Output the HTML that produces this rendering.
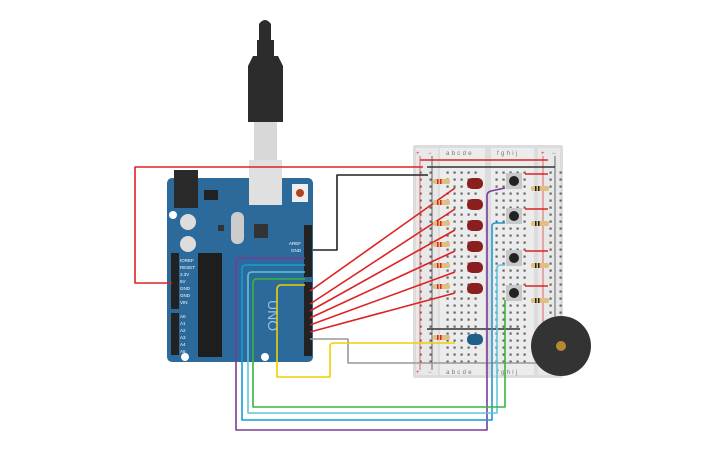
<!DOCTYPE html>
<html><head><style>body{margin:0;background:#fff}svg{display:block}</style></head><body>
<svg width="725" height="453" viewBox="0 0 725 453" xmlns="http://www.w3.org/2000/svg" font-family="Liberation Sans, sans-serif">
<defs>
<pattern id="h5" x="445" y="170" width="7" height="7" patternUnits="userSpaceOnUse"><rect x="1.5" y="1.5" width="2.2" height="2.2" fill="#666"/></pattern>
<pattern id="hr" x="418" y="170" width="10" height="7" patternUnits="userSpaceOnUse"><rect x="1.5" y="1.5" width="2.2" height="2.2" fill="#666"/></pattern>
</defs>
<rect x="413" y="145" width="150" height="233" fill="#dcdcdc" rx="2"/>
<rect x="416" y="148" width="22" height="227" fill="#e8e8e8"/>
<rect x="440" y="148" width="45" height="227" fill="#ececec"/>
<rect x="491" y="148" width="43" height="227" fill="#ececec"/>
<rect x="538" y="148" width="22" height="227" fill="#e8e8e8"/>
<rect x="445" y="170" width="35" height="196" fill="url(#h5)"/>
<rect x="495" y="170" width="35" height="196" fill="url(#h5)"/>
<rect x="418" y="170" width="20" height="196" fill="url(#hr)"/>
<rect x="542" y="170" width="20" height="196" fill="url(#hr)"/>
<line x1="420" y1="156" x2="420" y2="370" stroke="#d44" stroke-width="0.8"/>
<line x1="432" y1="156" x2="432" y2="370" stroke="#444" stroke-width="0.8"/>
<line x1="543" y1="156" x2="543" y2="370" stroke="#d44" stroke-width="0.8"/>
<line x1="555" y1="156" x2="555" y2="370" stroke="#444" stroke-width="0.8"/>
<g font-size="6" fill="#777">
<text x="416" y="155" fill="#d33">+</text><text x="428" y="155">−</text>
<text x="446" y="155" letter-spacing="2.3">abcde</text><text x="497" y="155" letter-spacing="2.3">fghij</text>
<text x="541" y="155" fill="#d33">+</text><text x="552" y="155">−</text>
<text x="416" y="374" fill="#d33">+</text><text x="428" y="374">−</text>
<text x="446" y="374" letter-spacing="2.3">abcde</text><text x="497" y="374" letter-spacing="2.3">fghij</text>
</g>
<line x1="420" y1="160" x2="548" y2="160" stroke="#d22" stroke-width="1.5"/>
<line x1="427" y1="167" x2="555" y2="167" stroke="#333" stroke-width="1.5"/>
<line x1="427" y1="329" x2="520" y2="329" stroke="#333" stroke-width="1.5"/>
<rect x="167" y="178" width="146" height="184" rx="5" fill="#2b6a9a"/>
<rect x="174" y="170" width="24" height="38" fill="#2a2a2a"/>
<rect x="249" y="160" width="33" height="45" fill="#e0e0e0"/>
<circle cx="173" cy="215" r="4" fill="#fff"/><circle cx="303" cy="198" r="4" fill="#fff"/>
<circle cx="185" cy="357" r="4" fill="#fff"/><circle cx="265" cy="357" r="4" fill="#fff"/>
<circle cx="188" cy="222" r="8" fill="#ddd"/><circle cx="188" cy="244" r="8" fill="#ddd"/>
<rect x="231" y="212" width="13" height="32" rx="6" fill="#ccc"/>
<rect x="254" y="224" width="14" height="14" fill="#333"/>
<rect x="218" y="225" width="6" height="6" fill="#333"/>
<rect x="204" y="190" width="14" height="10" fill="#222"/>
<rect x="292" y="184" width="16" height="18" fill="#eee"/><circle cx="300" cy="193" r="4" fill="#b5421f"/>
<rect x="198" y="253" width="24" height="104" fill="#1e1e1e"/>
<rect x="171" y="253" width="8" height="56" fill="#222"/>
<rect x="171" y="313" width="8" height="42" fill="#222"/>
<rect x="304" y="225" width="8" height="52" fill="#222"/>
<rect x="304" y="282" width="8" height="74" fill="#222"/>
<g font-size="4.5" fill="#fff">
<text x="180" y="262">IOREF</text><text x="180" y="269">RESET</text><text x="180" y="276">3.3V</text><text x="180" y="283">5V</text><text x="180" y="290">GND</text><text x="180" y="297">GND</text><text x="180" y="304">VIN</text>
<text x="180" y="318">A0</text><text x="180" y="325">A1</text><text x="180" y="332">A2</text><text x="180" y="339">A3</text><text x="180" y="346">A4</text><text x="180" y="353">A5</text>
<text x="289" y="245">AREF</text><text x="291" y="252">GND</text>
</g>
<text x="268" y="300" font-size="14" fill="#9fc0dc" transform="rotate(90 268 300)">UNO</text>
<rect x="254" y="120" width="23" height="40" fill="#d8d8d8"/>
<path d="M259 24 Q265 16 271 24 L271 40 L274 40 L274 56 L278 56 L283 66 L283 122 L248 122 L248 66 L253 56 L257 56 L257 40 L259 40 Z" fill="#2c2c2c"/>
<g fill="none" stroke-width="1.6" stroke-linejoin="round">
<path d="M172 283 H135 V167 H423" stroke="#d22"/>
<path d="M313 250 H337 V175 H428" stroke="#222"/>
<path d="M310 291 L455 188 M310 304 L455 209 M310 311 L455 230 M310 318 L455 251 M310 325 L455 272 M310 332 L455 293" stroke="#d22"/>
<path d="M525 174 H548 M525 209 H548 M525 251 H548 M525 286 H548" stroke="#d22"/>
<path d="M310 339 H348 V363 H550" stroke="#999"/>
<path d="M305 285 H281 Q277 285 277 290 V377 H330 V346 Q330 343 334 343 H455" stroke="#f0d000"/>
<path d="M305 258 H240 Q236 258 236 262 V430 H487 V196 Q487 192 491 191 L505 188" stroke="#7a3b98"/>
<path d="M305 265 H246 Q242 265 242 269 V420 H492 V226 Q492 223 496 223 H505" stroke="#1a9ad6"/>
<path d="M305 272 H252 Q248 272 248 276 V413 H497 V268 Q497 265 501 265 H505" stroke="#5fc6d8"/>
<path d="M305 279 H257 Q253 279 253 283 V407 H505 V300" stroke="#3cb43c"/>
</g>
<g fill="#e0c080">
<rect x="433" y="179" width="17" height="5" rx="2"/><rect x="433" y="200" width="17" height="5" rx="2"/><rect x="433" y="221" width="17" height="5" rx="2"/><rect x="433" y="242" width="17" height="5" rx="2"/><rect x="433" y="263" width="17" height="5" rx="2"/><rect x="433" y="284" width="17" height="5" rx="2"/><rect x="433" y="335" width="17" height="5" rx="2"/>
<rect x="531" y="186" width="18" height="5" rx="2"/><rect x="531" y="221" width="18" height="5" rx="2"/><rect x="531" y="263" width="18" height="5" rx="2"/><rect x="531" y="298" width="18" height="5" rx="2"/>
</g>
<g fill="#d22">
<rect x="437" y="179" width="1.5" height="5"/><rect x="440" y="179" width="1.5" height="5"/><rect x="437" y="200" width="1.5" height="5"/><rect x="440" y="200" width="1.5" height="5"/><rect x="437" y="221" width="1.5" height="5"/><rect x="440" y="221" width="1.5" height="5"/><rect x="437" y="242" width="1.5" height="5"/><rect x="440" y="242" width="1.5" height="5"/><rect x="437" y="263" width="1.5" height="5"/><rect x="440" y="263" width="1.5" height="5"/><rect x="437" y="284" width="1.5" height="5"/><rect x="440" y="284" width="1.5" height="5"/><rect x="437" y="335" width="1.5" height="5"/><rect x="440" y="335" width="1.5" height="5"/>
</g>
<g fill="#222">
<rect x="535" y="186" width="1.5" height="5"/><rect x="538" y="186" width="1.5" height="5"/><rect x="535" y="221" width="1.5" height="5"/><rect x="538" y="221" width="1.5" height="5"/><rect x="535" y="263" width="1.5" height="5"/><rect x="538" y="263" width="1.5" height="5"/><rect x="535" y="298" width="1.5" height="5"/><rect x="538" y="298" width="1.5" height="5"/>
</g>
<g fill="#8b1f1f">
<rect x="467" y="178" width="16" height="11" rx="5"/><rect x="467" y="199" width="16" height="11" rx="5"/><rect x="467" y="220" width="16" height="11" rx="5"/><rect x="467" y="241" width="16" height="11" rx="5"/><rect x="467" y="262" width="16" height="11" rx="5"/><rect x="467" y="283" width="16" height="11" rx="5"/>
</g>
<rect x="467" y="334" width="16" height="11" rx="5" fill="#1f5e86"/>
<g fill="#c8c8c8"><rect x="506" y="173" width="16" height="16"/><rect x="506" y="208" width="16" height="16"/><rect x="506" y="250" width="16" height="16"/><rect x="506" y="285" width="16" height="16"/></g>
<g fill="#222"><circle cx="514" cy="181" r="5"/><circle cx="514" cy="216" r="5"/><circle cx="514" cy="258" r="5"/><circle cx="514" cy="293" r="5"/></g>
<circle cx="561" cy="346" r="30" fill="#333"/>
<circle cx="561" cy="346" r="5" fill="#b58a2e"/>
</svg>
</body></html>
